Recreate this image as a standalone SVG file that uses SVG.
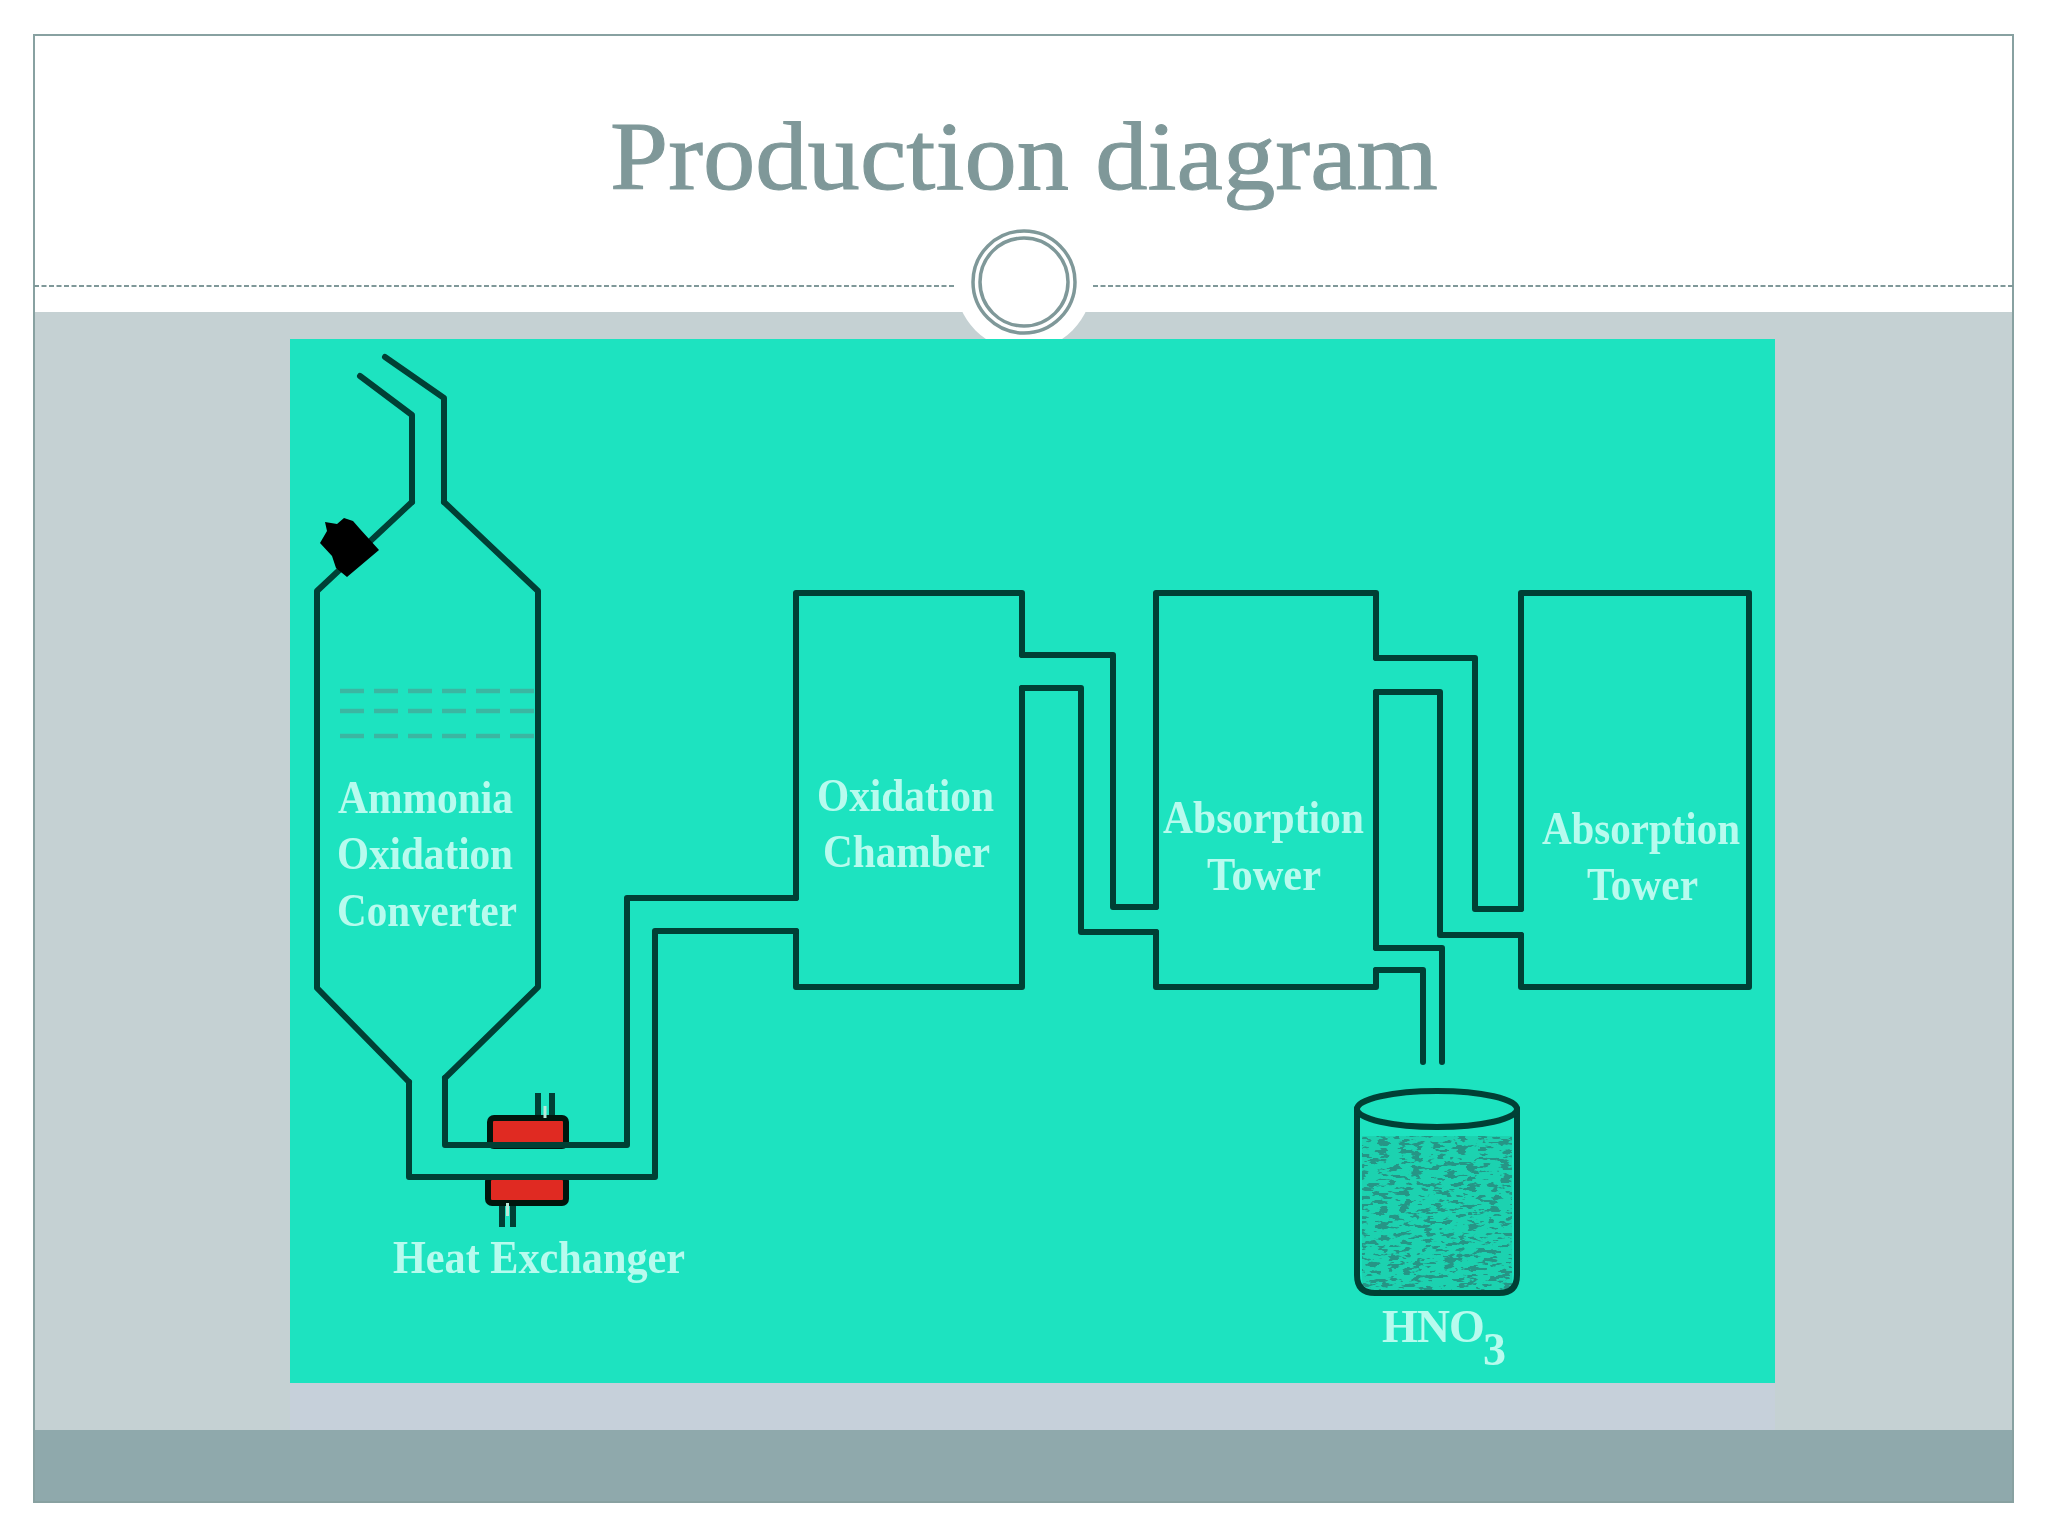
<svg xmlns="http://www.w3.org/2000/svg" width="2048" height="1536" viewBox="0 0 2048 1536">
<style>
.pipe{fill:none;stroke:#053f35;stroke-width:6;stroke-linejoin:round;stroke-linecap:round}
.hx{fill:#e02b20;stroke:#03140f;stroke-width:6;stroke-linejoin:round}
.tube{fill:none;stroke:#053f35;stroke-width:6}
.lbl{font-family:"Liberation Serif",serif;font-weight:bold;font-size:46px;fill:#b7fbee}
.ring{fill:none;stroke:#7f9899;stroke-width:3.5}
.dash{fill:none;stroke:#3ab6a2;stroke-width:4.5;stroke-dasharray:24 10}
</style>
<defs>
<filter id="soft" x="-5%" y="-5%" width="110%" height="110%"><feGaussianBlur stdDeviation="0.7"/></filter>
<filter id="speck" x="0" y="0" width="100%" height="100%">
<feTurbulence type="fractalNoise" baseFrequency="0.09 0.24" numOctaves="3" seed="11"/>
<feColorMatrix type="matrix" values="0 0 0 0 0.02  0 0 0 0 0.3  0 0 0 0 0.24  16 0 0 0 -8.6"/>
</filter>
</defs>
<rect width="2048" height="1536" fill="#ffffff"/>
<g id="slide">
<rect x="34" y="312" width="1979" height="1118" fill="#c5d1d3"/>
<rect x="290" y="1383" width="1485" height="47" fill="#c6d0da"/>
<rect x="34" y="1430" width="1979" height="72" fill="#8fa9ac"/>
<rect x="34" y="35" width="1979" height="1467" fill="none" stroke="#88a1a1" stroke-width="2"/>
<circle cx="1024" cy="282" r="68.5" fill="#ffffff"/>
<path d="M34,286H956M1093,286H2013" fill="none" stroke="#7f9899" stroke-width="1.8" stroke-dasharray="5 2.5"/>
<circle class="ring" cx="1024" cy="282" r="51"/>
<circle class="ring" cx="1024" cy="282" r="44"/>
<text x="610" y="189" font-family="'Liberation Serif',serif" font-size="98" fill="#7f9899" stroke="#7f9899" stroke-width="1" textLength="828" lengthAdjust="spacingAndGlyphs">Production diagram</text>
<rect x="290" y="339" width="1485" height="1044" fill="#1de3c0"/>
</g>
<g filter="url(#soft)">
<g id="heat-exchanger">
<path class="tube" d="M538,1093V1117M552,1093V1117M502,1202V1227M513,1202V1227"/>
<rect class="hx" x="490" y="1118" width="76" height="28" rx="4"/>
<rect class="hx" x="488" y="1177" width="78" height="26" rx="4"/>
<path d="M545,1106V1118M507.500,1203V1216" stroke="#b9e8d8" stroke-width="3" fill="none"/>
</g>
<g id="converter">
<path class="dash" d="M340,691H540M340,711H543M340,736H543"/>
<path class="pipe" d="M412,502L317,591V988L409,1082"/>
<path class="pipe" d="M444,502L538,591V987L445,1078"/>
<path d="M320,543L327,531L325,522L337,524L344,518L353,521L360,529L379,550L347,577L336,568L332,556Z" fill="#000000"/>
</g>
<g id="oxidation-chamber">
<path class="pipe" d="M796,898V593H1022V655"/>
<path class="pipe" d="M796,931V987H1022V688"/>
</g>
<g id="absorption-tower-1">
<path class="pipe" d="M1156,907V593H1376V658"/>
<path class="pipe" d="M1156,932V987H1376V970"/>
<path class="pipe" d="M1376,692V948"/>
</g>
<g id="absorption-tower-2">
<path class="pipe" d="M1521,909V593H1749V987H1521V935"/>
</g>
<g id="hno3-vessel">
<rect x="1362" y="1136" width="150" height="154" fill="#1dd2b0"/>
<rect x="1362" y="1136" width="150" height="154" fill="#000" filter="url(#speck)"/>
<path class="pipe" d="M1357,1109V1275Q1357,1293 1375,1293H1499Q1517,1293 1517,1275V1109"/>
<ellipse class="pipe" cx="1437" cy="1109" rx="80" ry="18" fill="#1de3c0" style="fill:#1de3c0"/>
</g>
<g id="connectors">
<path class="pipe" d="M360,376L412,415V502"/>
<path class="pipe" d="M385,357L444,398V502"/>
<path class="pipe" d="M409,1082V1177H655V931H796"/>
<path class="pipe" d="M445,1078V1145H627V898H796"/>
<path class="pipe" d="M1022,655H1113V907H1156"/>
<path class="pipe" d="M1022,688H1081V932H1156"/>
<path class="pipe" d="M1376,658H1475V909H1521"/>
<path class="pipe" d="M1376,692H1440V935H1521"/>
<path class="pipe" d="M1376,948H1442V1062"/>
<path class="pipe" d="M1376,970H1423V1062"/>
</g>
<g id="labels">
<text class="lbl" x="338" y="813" textLength="175" lengthAdjust="spacingAndGlyphs">Ammonia</text>
<text class="lbl" x="337" y="869" textLength="176" lengthAdjust="spacingAndGlyphs">Oxidation</text>
<text class="lbl" x="337" y="926" textLength="180" lengthAdjust="spacingAndGlyphs">Converter</text>
<text class="lbl" x="817" y="811" textLength="177" lengthAdjust="spacingAndGlyphs">Oxidation</text>
<text class="lbl" x="823" y="867" textLength="167" lengthAdjust="spacingAndGlyphs">Chamber</text>
<text class="lbl" x="1163" y="833" textLength="201" lengthAdjust="spacingAndGlyphs">Absorption</text>
<text class="lbl" x="1207" y="890" textLength="114" lengthAdjust="spacingAndGlyphs">Tower</text>
<text class="lbl" x="1542" y="844" textLength="198" lengthAdjust="spacingAndGlyphs">Absorption</text>
<text class="lbl" x="1587" y="900" textLength="111" lengthAdjust="spacingAndGlyphs">Tower</text>
<text class="lbl" x="393" y="1273" textLength="292" lengthAdjust="spacingAndGlyphs">Heat Exchanger</text>
<text class="lbl" x="1382" y="1342" font-size="42" letter-spacing="-1">HNO<tspan x="1483" y="1365">3</tspan></text>
</g>
</g>
</svg>
